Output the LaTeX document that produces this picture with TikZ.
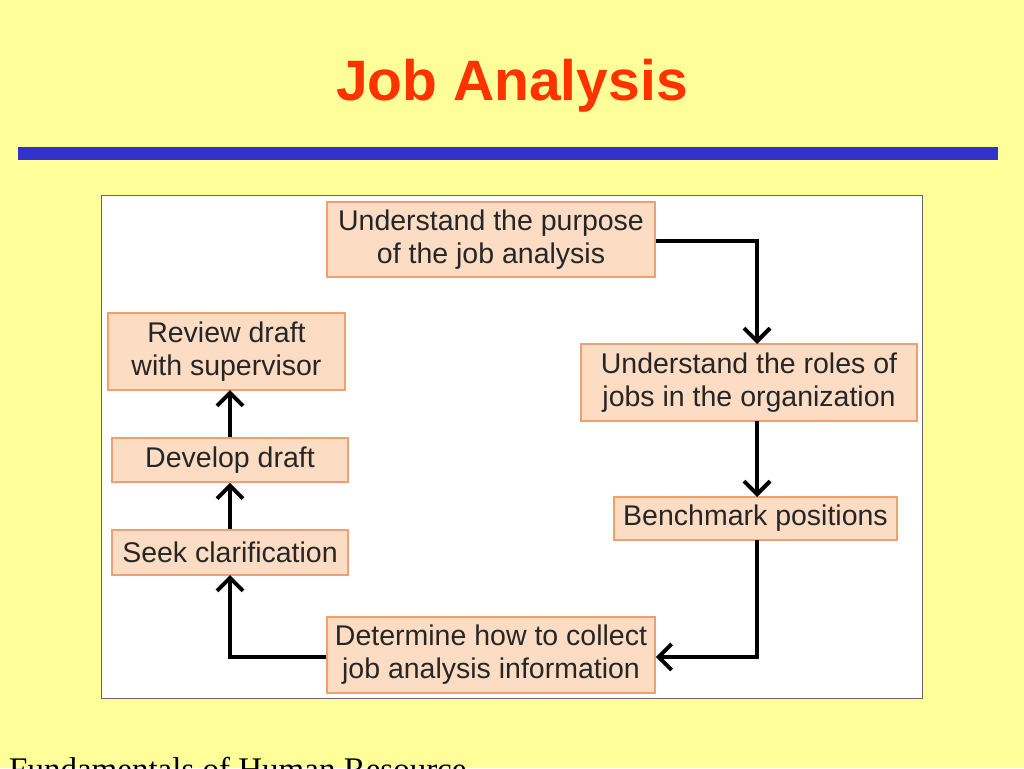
\documentclass[tikz,border=0pt]{standalone}
\usepackage{fontspec}
\setmainfont{Liberation Sans}
\newfontfamily\serifft{Liberation Serif}
\usetikzlibrary{arrows.meta}
\definecolor{bg}{HTML}{FFFF99}
\definecolor{ttl}{HTML}{FF3300}
\definecolor{bar}{HTML}{3333CC}
\definecolor{boxfill}{HTML}{FDDCC4}
\definecolor{boxline}{HTML}{F0A070}
\tikzset{
  bx/.style={draw=boxline, fill=boxfill, line width=1.5pt, align=center, inner sep=0pt,
    font=\fontsize{28.5}{33}\selectfont, text=black!85},
  ar/.style={line width=4pt, -{Straight Barb[length=13pt,width=26pt,line width=4pt]}}
}
\begin{document}
\begin{tikzpicture}[x=1pt,y=-1pt]
\fill[bg] (0,0) rectangle (1024,768);
\useasboundingbox (0,0) rectangle (1024,768);
\node[text=ttl, font=\bfseries\fontsize{57}{60}\selectfont] (title) at (512,86) {Job Analysis};
\fill[bar] (18,147) rectangle (998,160);
\draw[fill=white, draw=black!60, line width=0.8pt] (101,195) rectangle (922,698);
\node[bx, minimum width=328pt, minimum height=75pt] (b1) at (491,239.5) {Understand the purpose\\of the job analysis};
\node[bx, minimum width=336pt, minimum height=77pt] (b2) at (749,382.5) {Understand the roles of\\jobs in the organization};
\node[bx, minimum width=283pt, minimum height=43pt] (b3) at (755.5,518.5) {Benchmark positions};
\node[bx, minimum width=328pt, minimum height=76pt] (b4) at (491,655) {Determine how to collect\\job analysis information};
\node[bx, minimum width=236pt, minimum height=45pt] (b5) at (230,552.5) {Seek clarification};
\node[bx, minimum width=236pt, minimum height=44pt] (b6) at (230,460) {Develop draft};
\node[bx, minimum width=237pt, minimum height=77pt] (b7) at (226.5,351.5) {Review draft\\with supervisor};
\draw[ar] (b1.east |- 0,241) -| (757,344);
\draw[ar] (757,421) -- (757,497);
\draw[ar] (757,540) |- (b4.east |- 0,657);
\draw[ar] (b4.west |- 0,657) -| (230,575);
\draw[ar] (b5.north) -- (b6.south);
\draw[ar] (b6.north) -- (230,390);
\node[anchor=base west, inner sep=0pt, font=\serifft\fontsize{33}{36}\selectfont] (foot) at (9,780) {Fundamentals of Human Resource};
\end{tikzpicture}
\end{document}
